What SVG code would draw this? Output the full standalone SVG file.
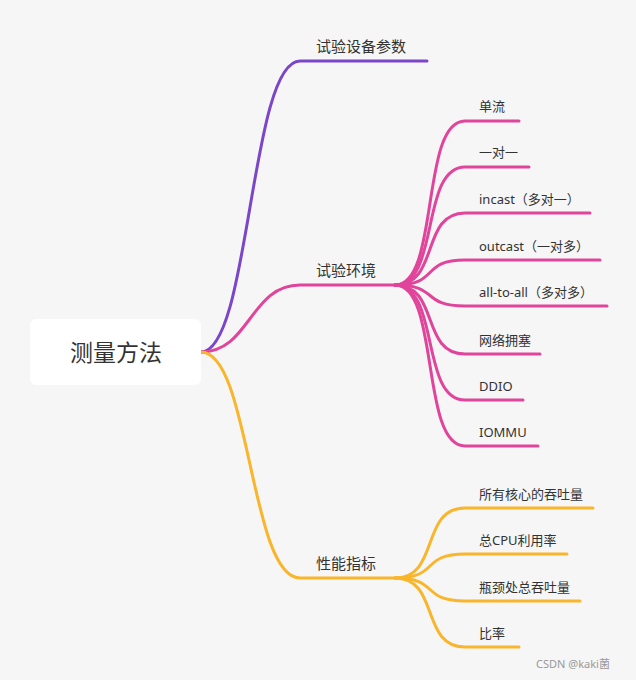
<svg xmlns="http://www.w3.org/2000/svg" width="636" height="680" viewBox="0 0 636 680">
<style>
text{font-family:"Noto Sans","Noto Sans CJK SC",sans-serif;fill:#333}
.c{fill:none;stroke-width:3;stroke-linecap:round}
.p{stroke:#7b46c8}.k{stroke:#e0449b}.o{stroke:#f9b52b}
.s{font-size:13px}.m{font-size:15px}
</style>
<rect width="636" height="680" fill="#f6f6f6"/>
<g id="connectors">
<path class="c p" d="M201 352 C250 352 250 61 300 61 L427 61"/>
<path class="c k" d="M201 352 C250 352 250 285 300 285 L395 285"/>
<path class="c o" d="M201 352 C250 352 250 578 300 578 L395 578"/>
<g class="c k">
<path d="M395 285 C440 285 420 121 465 121 L519 121"/>
<path d="M395 285 C440 285 420 167 465 167 L529 167"/>
<path d="M395 285 C440 285 420 213 465 213 L590 213"/>
<path d="M395 285 C440 285 420 260 465 260 L600 260"/>
<path d="M395 285 C440 285 420 306 465 306 L607 306"/>
<path d="M395 285 C440 285 420 354 465 354 L540 354"/>
<path d="M395 285 C440 285 420 400 465 400 L523 400"/>
<path d="M395 285 C440 285 420 446 465 446 L538 446"/>
</g>
<g class="c o">
<path d="M395 578 C440 578 420 508 465 508 L593 508"/>
<path d="M395 578 C440 578 420 554 465 554 L567 554"/>
<path d="M395 578 C440 578 420 601 465 601 L580 601"/>
<path d="M395 578 C440 578 420 647 465 647 L519 647"/>
</g>
</g>
<g id="root"><rect x="30" y="319" width="171" height="66" rx="6" fill="#fff"/><text x="116" y="361" font-size="23" text-anchor="middle">测量方法</text></g>
<g id="n1"><text class="m" x="316" y="52">试验设备参数</text></g>
<g id="n2"><text class="m" x="316" y="276">试验环境</text></g>
<g id="n3"><text class="m" x="316" y="569">性能指标</text></g>
<g id="e1"><text class="s" x="479" y="111">单流</text></g>
<g id="e2"><text class="s" x="479" y="157">一对一</text></g>
<g id="e3"><text class="s" x="479" y="204">incast（多对一）</text></g>
<g id="e4"><text class="s" x="479" y="251">outcast（一对多）</text></g>
<g id="e5"><text class="s" x="479" y="297">all-to-all（多对多）</text></g>
<g id="e6"><text class="s" x="479" y="345">网络拥塞</text></g>
<g id="e7"><text class="s" x="479" y="391">DDIO</text></g>
<g id="e8"><text class="s" x="479" y="437">IOMMU</text></g>
<g id="p1"><text class="s" x="479" y="499">所有核心的吞吐量</text></g>
<g id="p2"><text class="s" x="479" y="545">总CPU利用率</text></g>
<g id="p3"><text class="s" x="479" y="592">瓶颈处总吞吐量</text></g>
<g id="p4"><text class="s" x="479" y="638">比率</text></g>
<text x="536" y="668" font-size="11" style="fill:#999">CSDN @kaki菌</text>
</svg>
